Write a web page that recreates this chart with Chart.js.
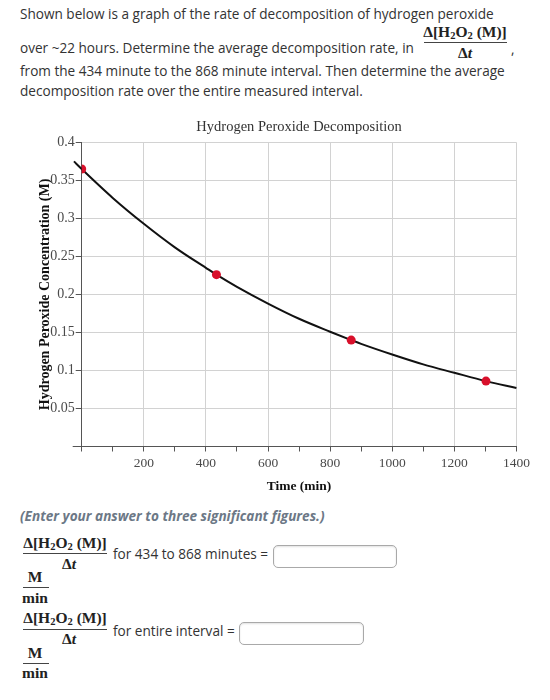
<!DOCTYPE html>
<html>
<head>
<meta charset="utf-8">
<script src="https://cdn.jsdelivr.net/npm/chart.js@4.4.1/dist/chart.umd.min.js"></script>
<style>
  html, body { margin: 0; padding: 0; background: #fff; }
  body { width: 550px; height: 700px; position: relative; overflow: hidden;
         font-family: 'Open Sans', sans-serif; font-size: 13.6px; color: #333; }
  .t { position: absolute; white-space: nowrap; line-height: 1; transform: translateY(-50%); }
  .m { position: absolute; white-space: nowrap; line-height: 1; transform: translate(-50%, -50%);
       font-family: 'Liberation Serif', serif; font-weight: bold; font-size: 15.5px; color: #222; }
  .m sub { font-size: 68%; vertical-align: -0.2em; line-height: 0; }
  .m i { font-style: italic; }
  .bar { position: absolute; height: 0; border-top: 1px solid #444; }
  .box { position: absolute; border: 1px solid #a9a9a9; border-radius: 5px; box-sizing: border-box;
         box-shadow: inset 0 1px 2px rgba(0,0,0,0.12); background: #fff; }
  .hint { font-weight: bold; font-style: italic; color: #6c7886; }
  #chartWrap { position: absolute; left: 0; top: 110px; width: 550px; height: 390px; }
</style>
</head>
<body>

<div class="t" style="left:20px; top:14px;">Shown below is a graph of the rate of decomposition of hydrogen peroxide</div>
<div class="t" style="left:20px; top:48px;">over ~22 hours. Determine the average decomposition rate, in</div>
<div class="m" style="left:465px; top:32px;">Δ[H<sub>2</sub>O<sub>2</sub> (M)]</div>
<div class="bar" style="left:424px; width:83px; top:42px;"></div>
<div class="m" style="left:465px; top:53px;">Δ<i>t</i></div>
<div class="t" style="left:511px; top:49px;">,</div>
<div class="t" style="left:20px; top:71px;">from the 434 minute to the 868 minute interval. Then determine the average</div>
<div class="t" style="left:20px; top:91px;">decomposition rate over the entire measured interval.</div>

<div id="chartWrap"><canvas id="decayChart" width="550" height="390"></canvas></div>

<div class="t hint" style="left:20px; top:516px;">(Enter your answer to three significant figures.)</div>

<div class="m" style="left:65px; top:543px;">Δ[H<sub>2</sub>O<sub>2</sub> (M)]</div>
<div class="bar" style="left:23px; width:84px; top:553px;"></div>
<div class="m" style="left:69px; top:564px;">Δ<i>t</i></div>
<div class="t" style="left:113px; top:554px;">for 434 to 868 minutes =</div>
<div class="box" style="left:273px; top:545px; width:124px; height:23px;"></div>
<div class="m" style="left:35px; top:577px;">M</div>
<div class="bar" style="left:23px; width:26px; top:587px;"></div>
<div class="m" style="left:35px; top:598px;">min</div>

<div class="m" style="left:65px; top:618px;">Δ[H<sub>2</sub>O<sub>2</sub> (M)]</div>
<div class="bar" style="left:23px; width:84px; top:629px;"></div>
<div class="m" style="left:69px; top:639px;">Δ<i>t</i></div>
<div class="t" style="left:113px; top:631px;">for entire interval =</div>
<div class="box" style="left:239px; top:622px; width:125px; height:23px;"></div>
<div class="m" style="left:35px; top:653px;">M</div>
<div class="bar" style="left:23px; width:26px; top:663px;"></div>
<div class="m" style="left:35px; top:673px;">min</div>

<script>
// --- data ---
const curveTime = [-25, 0, 100, 200, 300, 400, 434, 500, 600, 700, 800, 868, 900, 1000, 1100, 1200, 1302, 1400];
const curveConc = [0.375, 0.365, 0.327, 0.293, 0.262, 0.235, 0.226, 0.210, 0.188, 0.168, 0.151, 0.140, 0.135, 0.121, 0.108, 0.097, 0.086, 0.077];
const sampleTime = [0, 434, 868, 1302];
const sampleConc = [0.365, 0.226, 0.140, 0.086];
const xTickLabels = [200, 400, 600, 800, 1000, 1200, 1400];
const yTickLabels = ['0.05', '0.1', '0.15', '0.2', '0.25', '0.3', '0.35', '0.4'];

const SERIF = "'Liberation Serif', 'Times New Roman', serif";
const GRID = '#d2d2d2';
const AXIS = '#555';

// short bit of the time axis left of the y axis
const axisStub = {
    id: 'axisStub',
    afterDraw(chart) {
        const { ctx, scales: { x, y } } = chart;
        const y0 = y.getPixelForValue(0);
        ctx.save();
        ctx.strokeStyle = AXIS;
        ctx.lineWidth = 1;
        ctx.beginPath();
        ctx.moveTo(x.left - 9, y0);
        ctx.lineTo(x.left, y0);
        ctx.stroke();
        ctx.restore();
    }
};

const curvePoints = curveTime.map((t, i) => ({ x: t, y: curveConc[i] }));
const samplePoints = sampleTime.map((t, i) => ({ x: t, y: sampleConc[i] }));

new Chart(document.getElementById('decayChart').getContext('2d'), {
    type: 'scatter',
    data: {
        datasets: [{
            data: samplePoints,
            backgroundColor: '#d8102b',
            borderWidth: 0,
            pointRadius: 4.5,
            order: 0
        }, {
            data: curvePoints,
            showLine: true,
            borderColor: '#111',
            borderWidth: 2,
            pointRadius: 0,
            cubicInterpolationMode: 'monotone',
            clip: false,
            order: 1
        }]
    },
    plugins: [axisStub],
    options: {
        responsive: false,
        animation: false,
        events: [],
        layout: { padding: { left: 0, right: 33.6, top: 0, bottom: 0 } },
        scales: {
            x: {
                type: 'linear',
                min: 0,
                max: 1400,
                afterFit: (scale) => { scale.height = 53.5; },
                ticks: {
                    stepSize: 100,
                    autoSkip: false,
                    maxRotation: 0,
                    padding: 3.5,
                    color: '#4a4a4a',
                    font: { family: SERIF, size: 13.5 },
                    callback: (v) => xTickLabels.includes(v) ? String(v) : ''
                },
                grid: {
                    color: (c) => c.tick && xTickLabels.includes(c.tick.value) ? GRID : 'rgba(0,0,0,0)',
                    tickColor: AXIS,
                    tickLength: 5,
                    lineWidth: 1
                },
                border: { display: true, color: AXIS, width: 1 },
                title: {
                    display: true,
                    text: 'Time (min)',
                    color: '#111',
                    font: { family: SERIF, size: 13.5, weight: 'bold' },
                    padding: { top: 0, bottom: 5.2 }
                }
            },
            y: {
                type: 'linear',
                min: 0,
                max: 0.4,
                afterFit: (scale) => { scale.width = 81.7; },
                ticks: {
                    stepSize: 0.05,
                    padding: 1,
                    color: '#4a4a4a',
                    font: { family: SERIF, size: 14 },
                    callback: (v) => {
                        const s = String(Math.round(v * 100) / 100);
                        return yTickLabels.includes(s) ? s : '';
                    }
                },
                grid: {
                    color: GRID,
                    tickColor: AXIS,
                    tickLength: 6,
                    lineWidth: 1
                },
                border: { display: true, color: AXIS, width: 1 },
                title: {
                    display: true,
                    text: 'Hydrogen Peroxide Concentration (M)',
                    color: '#111',
                    font: { family: SERIF, size: 14, weight: 'bold' },
                    padding: { top: 36.6, bottom: 0 }
                }
            }
        },
        plugins: {
            legend: { display: false },
            tooltip: { enabled: false },
            title: {
                display: true,
                fullSize: false,
                text: 'Hydrogen Peroxide Decomposition',
                color: '#333',
                font: { family: SERIF, size: 14.5, weight: 'normal' },
                padding: { top: 8, bottom: 7 }
            }
        }
    }
});
</script>
</body>
</html>
